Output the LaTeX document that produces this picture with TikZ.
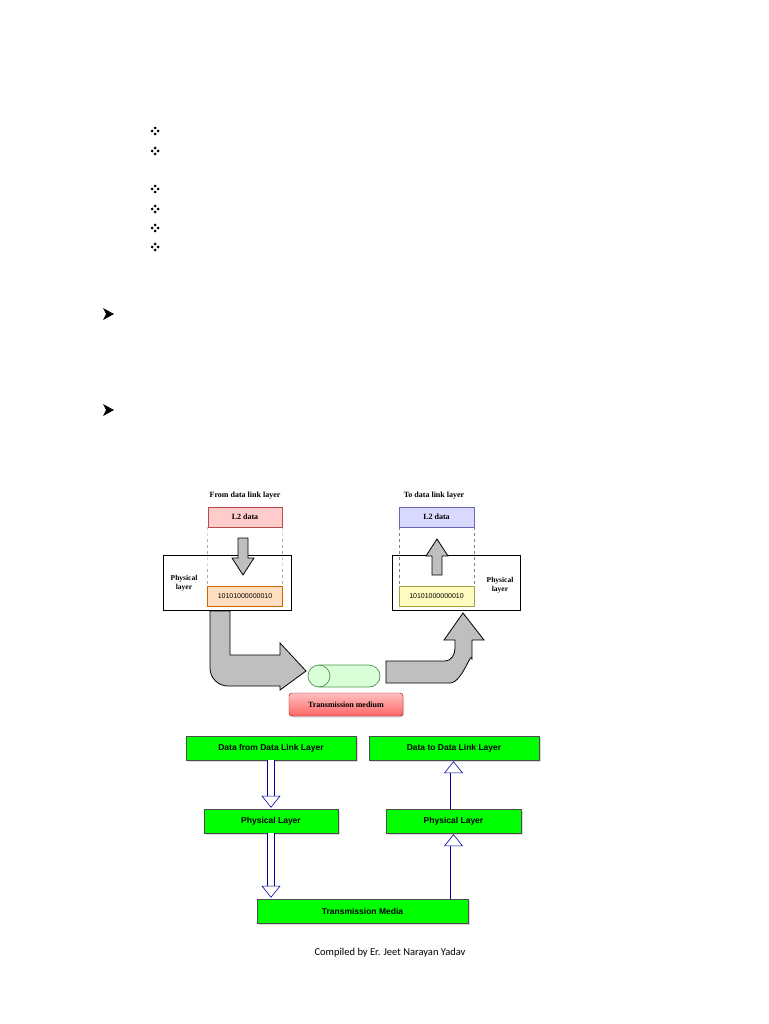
\documentclass[tikz,border=0pt]{standalone}
\usepackage{fontspec}
\setmainfont{Liberation Serif}
\newfontfamily\arialf{Liberation Sans}
\newfontfamily\carl{Carlito}
\usetikzlibrary{arrows.meta,shapes.geometric,calc,shadows}
\begin{document}
\begin{tikzpicture}[x=1pt,y=-1pt,
  lbl/.style={font=\bfseries\fontsize{8}{9}\selectfont},
  bits/.style={draw, minimum width=75pt, minimum height=20pt, inner sep=0pt, font=\arialf\fontsize{7}{8}\selectfont},
  grayarrow/.style={fill=black!25, draw=black, line width=0.8pt},
  gbox/.style={draw=black!70, fill=green, inner sep=0pt, minimum height=24pt, font=\arialf\bfseries\fontsize{8.5}{10}\selectfont, drop shadow={shadow xshift=1.5pt,shadow yshift=-1.5pt,opacity=0.3}},
  harrow/.style={draw=blue!60!black, double=white, double distance=6pt, line width=0.6pt, -{Triangle[open,width=19pt,length=12pt]}, shorten >=1pt},
  bullet/.style={fill=black}]
\useasboundingbox (0,0) rectangle (768,1024);
% bullets
\foreach \yy in {131,151,189,209,228,247}{
  \foreach \dx/\dy in {0/-3,0/3,-3/0,3/0}{\fill (155+\dx,\yy+\dy) circle (1.5pt);}
}
\foreach \yy in {314,410}{
  \fill (103,\yy-6) -- (114,\yy) -- (103,\yy+6) -- (106,\yy) -- cycle;
}
% ===== top diagram =====
\node[lbl] (fdl) at (245,496) {From data link layer};
\node[lbl] (tdl) at (434,496) {To data link layer};
\node[draw=red!60!black!70, fill=red!20, minimum width=74pt, minimum height=20pt, inner sep=0pt, lbl] (l2a) at (245,517) {L2 data};
\node[draw=blue!50!black!60, fill=blue!15, minimum width=75pt, minimum height=20pt, inner sep=0pt, lbl] (l2b) at (436.5,517) {L2 data};
\node[draw, minimum width=128pt, minimum height=55pt, inner sep=0pt] (phl) at (227,582.5) {};
\node[draw, minimum width=128pt, minimum height=55pt, inner sep=0pt] (phr) at (456,582.5) {};
\node[font=\bfseries\fontsize{7.5}{8.5}\selectfont, align=center] (phlt) at (184,583) {Physical\\layer};
\node[font=\bfseries\fontsize{7.5}{8.5}\selectfont, align=center] (phrt) at (500,585) {Physical\\layer};
\node[bits, draw=orange!80!black, fill=orange!25] (bl) at (245,596) {10101000000010};
\node[bits, draw=yellow!60!black, fill=yellow!25] (br) at (436.5,596) {10101000000010};
\draw[dashed, gray, line width=0.4pt] (l2a.south west) -- (bl.north west) (l2a.south east) -- (bl.north east);
\draw[dashed, gray, line width=0.4pt] (l2b.south west) -- (br.north west) (l2b.south east) -- (br.north east);
% small arrows
\draw[grayarrow] (238,538) -- (248,538) -- (248,558) -- (254,558) -- (243,575) -- (232,558) -- (238,558) -- cycle;
\draw[grayarrow] (432,575) -- (442,575) -- (442,556) -- (448,556) -- (437,539) -- (426,556) -- (432,556) -- cycle;
% big bent arrows
\draw[grayarrow] (210,611) -- (230,611) -- (230,655) -- (280,655) -- (280,643) -- (306,671) -- (280,690) -- (280,686) -- (228,686) to[out=180,in=-90] (210,668) -- cycle;
\draw[grayarrow] (386,661) -- (445,661) to[out=0,in=-90] (455,648) -- (455,640) -- (444,640) -- (463,613) -- (484,640) -- (472,640) -- (472,660) to[out=90,in=0] (450,683) -- (386,683) -- cycle;
% cylinder
\draw[draw=green!40!black!70, fill=green!15, line width=0.7pt] (319,665) -- (369,665) arc[start angle=-90,end angle=90,x radius=11pt,y radius=-11pt] -- (319,687) arc[start angle=90,end angle=270,x radius=11pt,y radius=-11pt] -- cycle;
\draw[draw=green!40!black!70, line width=0.7pt] (319,665) arc[start angle=-90,end angle=90,x radius=11pt,y radius=-11pt];
\node[draw=red!60!black, top color=red!25, bottom color=red!60, rounded corners=3pt, minimum width=114pt, minimum height=23pt, inner sep=0pt, lbl, drop shadow={shadow xshift=1pt,shadow yshift=-1.5pt,opacity=0.3}] (tm) at (346,704.5) {Transmission medium};
% ===== bottom diagram =====
\node[gbox, minimum width=170pt] (dfl) at (271,748) {Data from Data Link Layer};
\node[gbox, minimum width=170pt] (dtl) at (454,748) {Data to Data Link Layer};
\node[gbox, minimum width=134pt] (pl1) at (271,821) {Physical Layer};
\node[gbox, minimum width=135pt] (pl2) at (453.5,821) {Physical Layer};
\node[gbox, minimum width=211pt] (tmd) at (362.5,911) {Transmission Media};
\draw[harrow] (dfl.south -| pl1) -- (pl1.north);
\draw[harrow] (pl1.south) -- (pl1.south |- tmd.north);
\draw[harrow] (tmd.north -| pl2) -- (pl2.south);
\draw[harrow] (pl2.north) -- (pl2.north |- dtl.south);
\node[font=\carl\fontsize{10.5}{12}\selectfont] (foot) at (390,953) {Compiled by Er. Jeet Narayan Yadav};
\end{tikzpicture}
\end{document}
